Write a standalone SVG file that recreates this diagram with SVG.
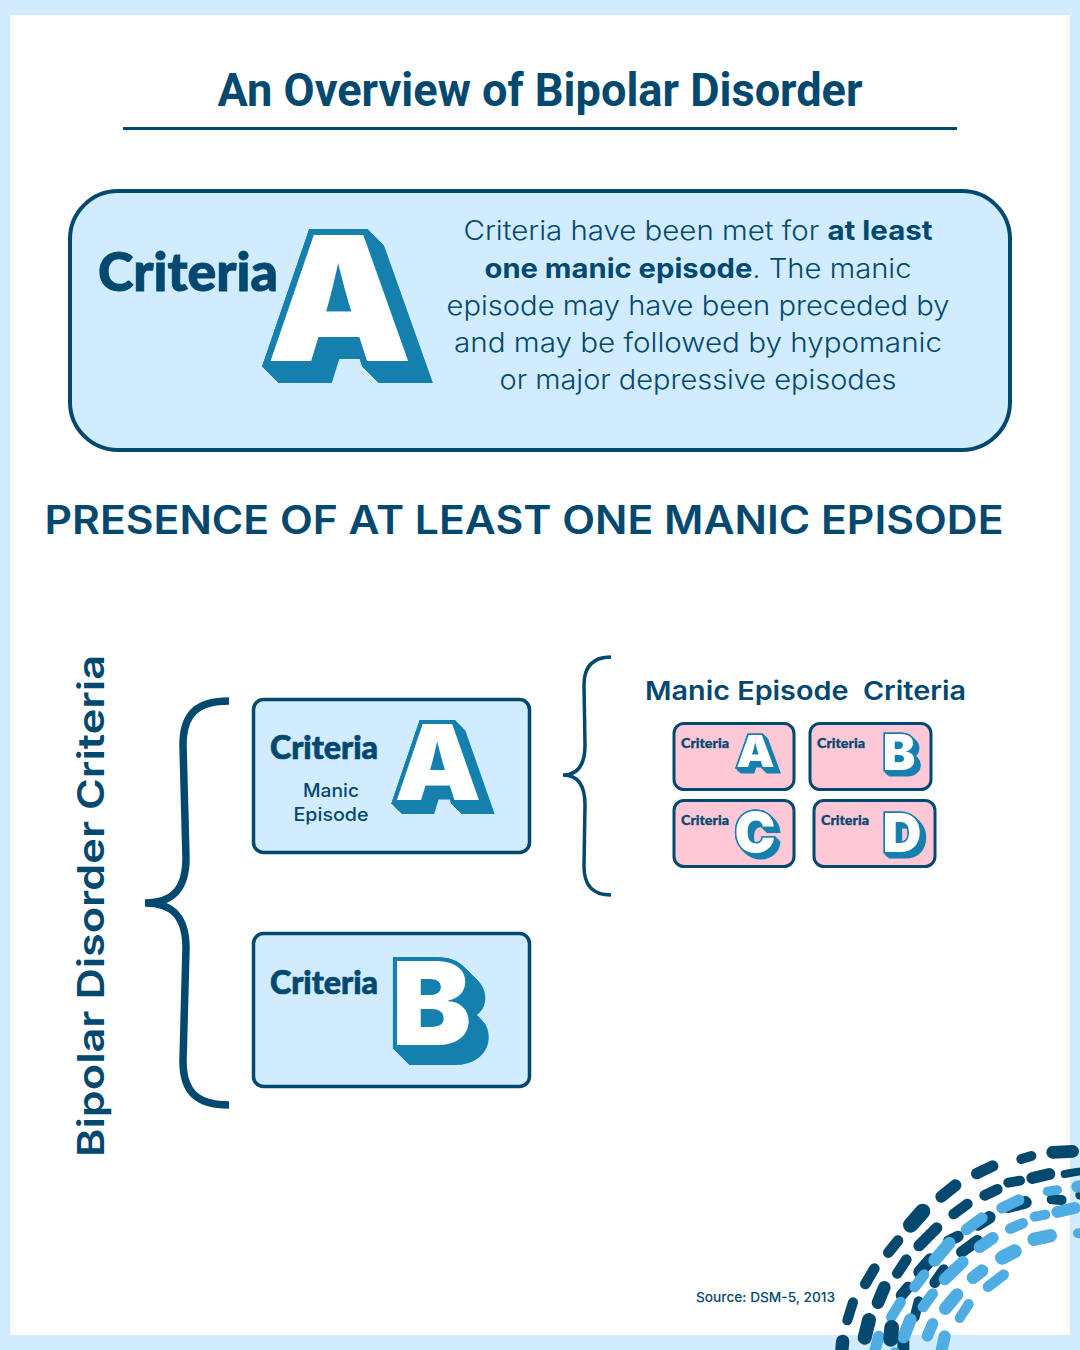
<svg xmlns="http://www.w3.org/2000/svg" width="1080" height="1350" viewBox="0 0 1080 1350">
<style>
text{font-family:"Inter","Liberation Sans",sans-serif;fill:#03486f}
.body{font-size:27px;font-weight:350;text-anchor:middle}
.body tspan{font-weight:700}
.crit{font-family:"Lato","Inter",sans-serif;font-weight:900;stroke:#03486f}
.big{font-family:"Inter","Liberation Sans",sans-serif;font-weight:900;fill:#fff;stroke:#1580ae;paint-order:stroke;stroke-linejoin:miter}
.panel{fill:#d1ecff;stroke:#03486f}
.pink{fill:#ffc8d7;stroke:#03486f;stroke-width:3}
.d line{stroke:#03486f;stroke-linecap:round}
.l line{stroke:#4fade3;stroke-linecap:round}
.brace{fill:none;stroke:#03486f;stroke-linecap:butt}
</style>
<defs>
<filter id="ex16" x="-30%" y="-30%" width="170%" height="170%" color-interpolation-filters="sRGB">
<feFlood flood-color="#1580ae"/><feComposite in2="SourceAlpha" operator="in" result="t"/>
<feOffset in="t" dx="1" dy="1" result="o1"/><feMerge result="m1"><feMergeNode in="o1"/><feMergeNode in="t"/></feMerge>
<feOffset in="m1" dx="2" dy="2" result="o2"/><feMerge result="m2"><feMergeNode in="o2"/><feMergeNode in="m1"/></feMerge>
<feOffset in="m2" dx="4" dy="4" result="o3"/><feMerge result="m3"><feMergeNode in="o3"/><feMergeNode in="m2"/></feMerge>
<feOffset in="m3" dx="8" dy="8" result="o4"/><feMerge result="m4"><feMergeNode in="o4"/><feMergeNode in="m3"/></feMerge>
<feOffset in="m4" dx="1" dy="1" result="o5"/>
<feMerge><feMergeNode in="o5"/><feMergeNode in="m4"/><feMergeNode in="SourceGraphic"/></feMerge>
</filter>
<filter id="ex10" x="-30%" y="-30%" width="170%" height="170%" color-interpolation-filters="sRGB">
<feFlood flood-color="#1580ae"/><feComposite in2="SourceAlpha" operator="in" result="t"/>
<feOffset in="t" dx="1" dy="1" result="o1"/><feMerge result="m1"><feMergeNode in="o1"/><feMergeNode in="t"/></feMerge>
<feOffset in="m1" dx="2" dy="2" result="o2"/><feMerge result="m2"><feMergeNode in="o2"/><feMergeNode in="m1"/></feMerge>
<feOffset in="m2" dx="4" dy="4" result="o3"/><feMerge result="m3"><feMergeNode in="o3"/><feMergeNode in="m2"/></feMerge>
<feOffset in="m3" dx="3" dy="3" result="o4"/>
<feMerge><feMergeNode in="o4"/><feMergeNode in="m3"/><feMergeNode in="SourceGraphic"/></feMerge>
</filter>
<filter id="ex5" x="-30%" y="-30%" width="170%" height="170%" color-interpolation-filters="sRGB">
<feFlood flood-color="#1580ae"/><feComposite in2="SourceAlpha" operator="in" result="t"/>
<feOffset in="t" dx="1" dy="1" result="o1"/><feMerge result="m1"><feMergeNode in="o1"/><feMergeNode in="t"/></feMerge>
<feOffset in="m1" dx="2" dy="2" result="o2"/><feMerge result="m2"><feMergeNode in="o2"/><feMergeNode in="m1"/></feMerge>
<feOffset in="m2" dx="2" dy="2" result="o3"/>
<feMerge><feMergeNode in="o3"/><feMergeNode in="m2"/><feMergeNode in="SourceGraphic"/></feMerge>
</filter>
</defs>
<rect width="1080" height="1350" fill="#d1ecff"/>
<rect x="10" y="15" width="1060" height="1320" fill="#fff"/>

<g id="title">
<text x="540" y="106" text-anchor="middle" textLength="645" lengthAdjust="spacingAndGlyphs" style="font-family:Roboto,sans-serif;font-weight:700;font-size:46px">An Overview of Bipolar Disorder</text>
<rect x="123" y="127" width="834" height="3" fill="#03486f"/>
</g>

<g id="card-criteria-a">
<rect class="panel" x="70" y="191" width="940" height="259" rx="48" stroke-width="4"/>
<text class="crit" x="98" y="291" font-size="54" stroke-width="1" textLength="180" lengthAdjust="spacingAndGlyphs">Criteria</text>
<text class="big" transform="translate(339.500 361) scale(1.06 1)" text-anchor="middle" font-size="173" stroke-width="12" filter="url(#ex16)">A</text>
<text class="body" x="698" y="240" textLength="469" lengthAdjust="spacingAndGlyphs">Criteria have been met for <tspan>at least</tspan></text>
<text class="body" x="698" y="278" textLength="427" lengthAdjust="spacingAndGlyphs"><tspan>one manic episode</tspan>. The manic</text>
<text class="body" x="698" y="315" textLength="503" lengthAdjust="spacingAndGlyphs">episode may have been preceded by</text>
<text class="body" x="698" y="352" textLength="488" lengthAdjust="spacingAndGlyphs">and may be followed by hypomanic</text>
<text class="body" x="698" y="389" textLength="397" lengthAdjust="spacingAndGlyphs">or major depressive episodes</text>
</g>

<g id="heading">
<text x="524" y="534" text-anchor="middle" font-size="39" font-weight="600" textLength="959" lengthAdjust="spacingAndGlyphs">PRESENCE OF AT LEAST ONE MANIC EPISODE</text>
</g>

<g id="side-label">
<text transform="translate(104 906) rotate(-90)" text-anchor="middle" font-size="37" font-weight="600" textLength="502" lengthAdjust="spacingAndGlyphs">Bipolar Disorder Criteria</text>
</g>

<g id="connectors">
<path class="brace" stroke-width="7.500" d="M229 701C198 701 183 713 183 745L186 858C186 888 174 903 145 903C174 903 186 918 186 948L183 1061C183 1093 198 1105 229 1105"/>
<path class="brace" stroke-width="3.500" d="M611 657C593 657 584 666 584 685L585 745C585 765 578 775 563 775C578 775 585 785 585 805L584 866C584 886 593 895 611 895"/>
</g>

<g id="node-criteria-a">
<rect class="panel" x="253.500" y="699.500" width="276" height="153" rx="10" stroke-width="3.500"/>
<text class="crit" x="270" y="759" font-size="32" stroke-width="0.700" textLength="108" lengthAdjust="spacingAndGlyphs">Criteria</text>
<text x="331" y="797" text-anchor="middle" font-size="18" font-weight="500" textLength="56" lengthAdjust="spacingAndGlyphs">Manic</text>
<text x="331" y="821" text-anchor="middle" font-size="18" font-weight="500" textLength="75" lengthAdjust="spacingAndGlyphs">Episode</text>
<text class="big" transform="translate(438 800) scale(1.04 1)" text-anchor="middle" font-size="105" stroke-width="8" filter="url(#ex10)">A</text>
</g>

<g id="node-criteria-b">
<rect class="panel" x="253.500" y="933.500" width="276" height="153" rx="10" stroke-width="3.500"/>
<text class="crit" x="270" y="994" font-size="32" stroke-width="0.700" textLength="108" lengthAdjust="spacingAndGlyphs">Criteria</text>
<text class="big" transform="translate(431.500 1045) scale(1.04 1)" text-anchor="middle" font-size="115" stroke-width="8" filter="url(#ex16)">B</text>
</g>

<g id="manic-title">
<text x="805.500" y="700" text-anchor="middle" font-size="26" font-weight="600" textLength="321" lengthAdjust="spacingAndGlyphs" xml:space="preserve">Manic Episode  Criteria</text>
</g>

<g id="mini-a">
<rect class="pink" x="674" y="723.500" width="120" height="66" rx="10"/>
<text class="crit" x="681" y="748" font-size="14" stroke-width="0.300" textLength="48" lengthAdjust="spacingAndGlyphs">Criteria</text>
<text class="big" transform="translate(755.500 767) scale(1.1 1)" text-anchor="middle" font-size="44" stroke-width="3" filter="url(#ex5)">A</text>
</g>
<g id="mini-b">
<rect class="pink" x="810" y="723.500" width="121" height="66" rx="10"/>
<text class="crit" x="817" y="748" font-size="14" stroke-width="0.300" textLength="48" lengthAdjust="spacingAndGlyphs">Criteria</text>
<text class="big" x="899" y="770" text-anchor="middle" font-size="49" stroke-width="3" filter="url(#ex5)">B</text>
</g>
<g id="mini-c">
<rect class="pink" x="674" y="800.500" width="120" height="66" rx="10"/>
<text class="crit" x="681" y="825" font-size="14" stroke-width="0.300" textLength="48" lengthAdjust="spacingAndGlyphs">Criteria</text>
<text class="big" x="755" y="852" text-anchor="middle" font-size="55" stroke-width="3" filter="url(#ex5)">C</text>
</g>
<g id="mini-d">
<rect class="pink" x="814" y="800.500" width="121" height="66" rx="10"/>
<text class="crit" x="821" y="825" font-size="14" stroke-width="0.300" textLength="48" lengthAdjust="spacingAndGlyphs">Criteria</text>
<text class="big" x="902" y="852" text-anchor="middle" font-size="54" stroke-width="3" filter="url(#ex5)">D</text>
</g>

<g id="source">
<text x="696" y="1302" font-size="13.500" font-weight="500" textLength="139" lengthAdjust="spacingAndGlyphs">Source: DSM-5, 2013</text>
</g>

<g id="decor" transform="translate(820 1130) scale(0.33333)">
<g class="d">
<line x1="698" y1="67" x2="758" y2="64" stroke-width="38"/>
<line x1="604" y1="87" x2="634" y2="78" stroke-width="30"/>
<line x1="470" y1="131" x2="518" y2="108" stroke-width="34"/>
<line x1="364" y1="200" x2="406" y2="166" stroke-width="36"/>
<line x1="272" y1="285" x2="308" y2="244" stroke-width="46"/>
<line x1="205" y1="368" x2="234" y2="332" stroke-width="32"/>
<line x1="136" y1="462" x2="163" y2="416" stroke-width="32"/>
<line x1="82" y1="571" x2="99" y2="517" stroke-width="30"/>
<line x1="134" y1="623" x2="147" y2="570" stroke-width="42"/>
<line x1="66" y1="655" x2="68" y2="634" stroke-width="40"/>
<line x1="174" y1="518" x2="193" y2="472" stroke-width="38"/>
<line x1="232" y1="430" x2="259" y2="389" stroke-width="32"/>
<line x1="297" y1="347" x2="350" y2="294" stroke-width="34"/>
<line x1="401" y1="252" x2="442" y2="222" stroke-width="32"/>
<line x1="494" y1="196" x2="532" y2="178" stroke-width="32"/>
<line x1="565" y1="158" x2="600" y2="152" stroke-width="30"/>
<line x1="637" y1="144" x2="688" y2="132" stroke-width="36"/>
<line x1="734" y1="132" x2="775" y2="125" stroke-width="24"/>
<line x1="695" y1="208" x2="725" y2="210" stroke-width="30"/>
<line x1="564" y1="230" x2="616" y2="217" stroke-width="38"/>
<line x1="474" y1="283" x2="508" y2="262" stroke-width="38"/>
<line x1="386" y1="333" x2="414" y2="319" stroke-width="34"/>
<line x1="425" y1="366" x2="472" y2="332" stroke-width="34"/>
<line x1="344" y1="458" x2="371" y2="419" stroke-width="32"/>
<line x1="299" y1="426" x2="331" y2="389" stroke-width="38"/>
<line x1="244" y1="496" x2="264" y2="472" stroke-width="34"/>
<line x1="284" y1="561" x2="296" y2="514" stroke-width="30"/>
<line x1="250" y1="660" x2="250" y2="634" stroke-width="36"/>
<line x1="780" y1="195" x2="790" y2="195" stroke-width="28"/>
</g>
<g class="l">
<line x1="546" y1="234" x2="596" y2="210" stroke-width="34"/>
<line x1="682" y1="184" x2="712" y2="180" stroke-width="28"/>
<line x1="712" y1="246" x2="764" y2="234" stroke-width="36"/>
<line x1="772" y1="170" x2="790" y2="168" stroke-width="36"/>
<line x1="774" y1="310" x2="790" y2="310" stroke-width="30"/>
<line x1="644" y1="260" x2="676" y2="254" stroke-width="30"/>
<line x1="571" y1="296" x2="608" y2="280" stroke-width="32"/>
<line x1="642" y1="328" x2="691" y2="317" stroke-width="40"/>
<line x1="546" y1="383" x2="584" y2="364" stroke-width="42"/>
<line x1="439" y1="299" x2="486" y2="264" stroke-width="34"/>
<line x1="479" y1="351" x2="518" y2="324" stroke-width="36"/>
<line x1="344" y1="391" x2="388" y2="339" stroke-width="38"/>
<line x1="374" y1="448" x2="428" y2="396" stroke-width="36"/>
<line x1="459" y1="443" x2="486" y2="422" stroke-width="38"/>
<line x1="504" y1="470" x2="551" y2="434" stroke-width="32"/>
<line x1="284" y1="471" x2="312" y2="434" stroke-width="32"/>
<line x1="214" y1="561" x2="242" y2="516" stroke-width="32"/>
<line x1="309" y1="531" x2="338" y2="491" stroke-width="32"/>
<line x1="376" y1="536" x2="411" y2="494" stroke-width="38"/>
<line x1="419" y1="564" x2="446" y2="522" stroke-width="30"/>
<line x1="322" y1="618" x2="338" y2="581" stroke-width="34"/>
<line x1="251" y1="621" x2="271" y2="569" stroke-width="38"/>
<line x1="164" y1="665" x2="176" y2="619" stroke-width="34"/>
<line x1="364" y1="665" x2="374" y2="619" stroke-width="36"/>
<line x1="225" y1="670" x2="225" y2="667" stroke-width="30"/>
</g>
<g class="d">
<line x1="212" y1="628" x2="215" y2="592" stroke-width="44"/>
</g>
</g>
</svg>
